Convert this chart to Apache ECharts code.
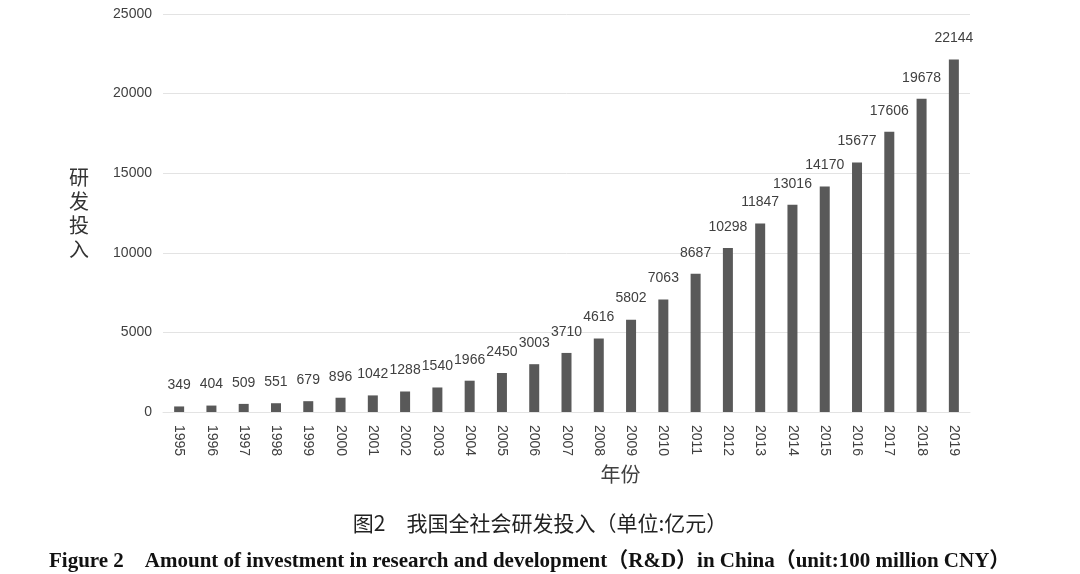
<!DOCTYPE html>
<html>
<head>
<meta charset="utf-8">
<script src="https://cdn.jsdelivr.net/npm/echarts@6/dist/echarts.min.js"></script>
<style>
  html, body { margin: 0; padding: 0; background: #fff; }
  #main { width: 1080px; height: 574px; }
</style>
</head>
<body>
<div id="main"></div>
<script>
// 年份和研发投入（亿元）
const years = ['1995', '1996', '1997', '1998', '1999', '2000', '2001', '2002', '2003', '2004',
  '2005', '2006', '2007', '2008', '2009', '2010', '2011', '2012', '2013', '2014',
  '2015', '2016', '2017', '2018', '2019']
const investment = [349, 404, 509, 551, 679, 896, 1042, 1288, 1540, 1966,
  2450, 3003, 3710, 4616, 5802, 7063, 8687, 10298, 11847, 13016,
  14170, 15677, 17606, 19678, 22144]
const yTicks = [0, 5000, 10000, 15000, 20000, 25000]

const captionCn = '图2　我国全社会研发投入（单位:亿元）'
const captionEn = 'Figure 2    Amount of investment in research and development（R&D）in China（unit:100 million CNY）'

const chart = echarts.init(document.getElementById('main'))

const option = {
  backgroundColor: '#fff',
  animation: false,
  grid: {
    left: 163,
    right: 110,
    top: 14,
    bottom: 162
  },
  title: [
    {
      text: captionCn,
      left: 'center',
      top: 508,
      textStyle: {
        fontFamily: 'Noto Sans CJK SC',
        fontSize: 21,
        fontWeight: 'normal',
        color: '#222'
      }
    },
    {
      text: captionEn,
      left: 44,
      top: 546,
      textStyle: {
        fontFamily: 'Liberation Serif, Noto Sans CJK SC',
        fontSize: 21,
        fontWeight: 'bold',
        color: '#111'
      }
    }
  ],
  xAxis: {
    type: 'category',
    data: years,
    name: '年份',
    nameLocation: 'middle',
    nameGap: 50,
    nameTextStyle: {
      fontFamily: 'Noto Sans CJK SC',
      fontSize: 20,
      color: '#404040',
      padding: [0, 0, 0, 108]
    },
    axisLine: {
      lineStyle: { color: '#e3e3e3', width: 1 }
    },
    axisTick: { show: false },
    axisLabel: {
      rotate: -90,
      margin: 13,
      fontFamily: 'Liberation Sans',
      fontSize: 14,
      color: '#404040'
    }
  },
  yAxis: {
    type: 'value',
    min: yTicks[0],
    max: yTicks[yTicks.length - 1],
    interval: 5000,
    name: '研\n发\n投\n入',
    nameLocation: 'middle',
    nameRotate: 0,
    nameGap: 74,
    nameTextStyle: {
      fontFamily: 'Noto Sans CJK SC',
      fontSize: 20,
      lineHeight: 24,
      color: '#333'
    },
    axisLine: { show: false },
    axisTick: { show: false },
    axisLabel: {
      margin: 11,
      fontFamily: 'Liberation Sans',
      fontSize: 14,
      color: '#404040',
      formatter: value => String(value)
    },
    splitLine: {
      lineStyle: { color: '#e3e3e3', width: 1 }
    }
  },
  series: [
    {
      type: 'bar',
      data: investment,
      barWidth: 10,
      itemStyle: { color: '#595959' },
      label: {
        show: true,
        position: 'top',
        distance: 14,
        fontFamily: 'Liberation Sans',
        fontSize: 14,
        color: '#404040'
      }
    }
  ]
}

chart.setOption(option)
</script>
</body>
</html>
